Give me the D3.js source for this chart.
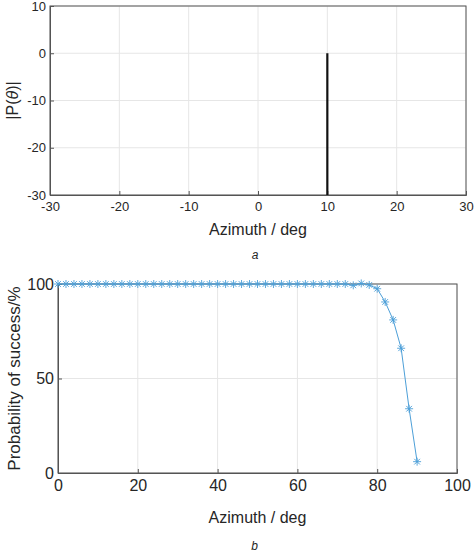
<!DOCTYPE html>
<html><head><meta charset="utf-8">
<script src="https://cdn.jsdelivr.net/npm/d3@7"></script>
<style>body{margin:0;background:#fff}text{font-family:"Liberation Sans",Arial,sans-serif;fill:#262626}</style>
</head><body><div id="container"></div>
<script>
// (a) beam pattern: single spike
const spikeAz = [10];
const spikeTop = [0];
const topXTicks = [-30, -20, -10, 0, 10, 20, 30];
const topYTicks = [10, 0, -10, -20, -30];

// (b) probability of success vs azimuth
const azimuth = [0,2,4,6,8,10,12,14,16,18,20,22,24,26,28,30,32,34,36,38,40,42,44,46,48,50,52,54,56,58,60,62,64,66,68,70,72,74,76,78,80,82,84,86,88,90];
const success = [100,100,100,100,100,100,100,100,100,100,100,100,100,100,100,100,100,100,100,100,100,100,100,100,100,100,100,100,100,100,100,100,100,100,100,100,100,99.3,100.3,99.5,97.5,90.5,81,66,34,6];
const botXTicks = [0, 20, 40, 60, 80, 100];
const botYTicks = [0, 50, 100];

const svg = d3.select('#container').append('svg').attr('width', 474).attr('height', 556);

function drawFrame(x, y, xt, yt, xLab, yLab, sub, fs, labOff, subOff) {
  const g = svg.append('g');
  const [x0, x1] = x.range(), [y0, y1] = y.range();
  g.selectAll('.gx').data(xt).enter().append('line')
    .attr('x1', d => x(d)).attr('x2', d => x(d)).attr('y1', y0).attr('y2', y1)
    .attr('stroke', '#e6e6e6');
  g.selectAll('.gy').data(yt).enter().append('line')
    .attr('y1', d => y(d)).attr('y2', d => y(d)).attr('x1', x0).attr('x2', x1)
    .attr('stroke', '#e6e6e6');
  g.append('g').attr('transform', `translate(0,${y0})`)
    .call(d3.axisBottom(x).tickValues(xt).tickFormat(d => String(d)).tickSize(-4).tickPadding(7))
    .call(a => a.selectAll('text').attr('font-size', fs));
  g.append('g').attr('transform', `translate(${x0},0)`)
    .call(d3.axisLeft(y).tickValues(yt).tickFormat(d => String(d)).tickSize(-4).tickPadding(4))
    .call(a => a.selectAll('text').attr('font-size', fs));
  g.selectAll('.domain, .tick line').attr('stroke', '#555');
  g.append('rect').attr('x', x0).attr('y', y1).attr('width', x1 - x0).attr('height', y0 - y1)
    .attr('fill', 'none').attr('stroke', '#555');
  g.append('text').attr('x', (x0 + x1) / 2).attr('y', y0 + labOff).attr('text-anchor', 'middle')
    .attr('font-size', 16).text(xLab);
  g.append('text').attr('transform', `translate(${x0 - 38},${(y0 + y1) / 2}) rotate(-90)`)
    .attr('text-anchor', 'middle').attr('font-size', 17).text(yLab);
  g.append('text').attr('x', (x0 + x1) / 2 - 3).attr('y', y0 + subOff).attr('text-anchor', 'middle')
    .attr('font-size', 12).attr('font-style', 'italic').text(sub);
  return g;
}

// top chart
const xa = d3.scaleLinear().domain([-30, 30]).range([50, 466]);
const ya = d3.scaleLinear().domain([-30, 10]).range([195, 6]);
const ga = drawFrame(xa, ya, topXTicks, topYTicks, 'Azimuth / deg', '', 'a', 13, 40, 64);
ga.append('text').attr('transform', `translate(18,${(195 + 6) / 2}) rotate(-90)`)
  .attr('text-anchor', 'middle').attr('font-size', 16)
  .html('|P(<tspan font-style="italic">θ</tspan>)|');
ga.selectAll('.spike').data(spikeAz).enter().append('line')
  .attr('x1', d => xa(d)).attr('x2', d => xa(d))
  .attr('y1', (d, i) => ya(spikeTop[i])).attr('y2', ya(-30))
  .attr('stroke', '#111').attr('stroke-width', 2.2);

// bottom chart
const xb = d3.scaleLinear().domain([0, 100]).range([58, 457]);
const yb = d3.scaleLinear().domain([0, 100]).range([473, 284]);
const gb = drawFrame(xb, yb, botXTicks, botYTicks, 'Azimuth / deg', 'Probability of success/%', 'b', 16, 50, 77);
const blue = '#4d9fd8';
gb.append('path').datum(azimuth.map((a, i) => [a, success[i]]))
  .attr('fill', 'none').attr('stroke', blue).attr('stroke-width', 1)
  .attr('d', d3.line().x(d => xb(d[0])).y(d => yb(d[1])));
const star = gb.selectAll('.pt').data(azimuth).enter().append('g')
  .attr('transform', (d, i) => `translate(${xb(d)},${yb(success[i])})`);
[0, 45, 90, 135].forEach(ang => {
  star.append('line').attr('x1', -4).attr('x2', 4).attr('y1', 0).attr('y2', 0)
    .attr('transform', `rotate(${ang})`).attr('stroke', blue).attr('stroke-width', 0.9);
});
</script></body></html>
